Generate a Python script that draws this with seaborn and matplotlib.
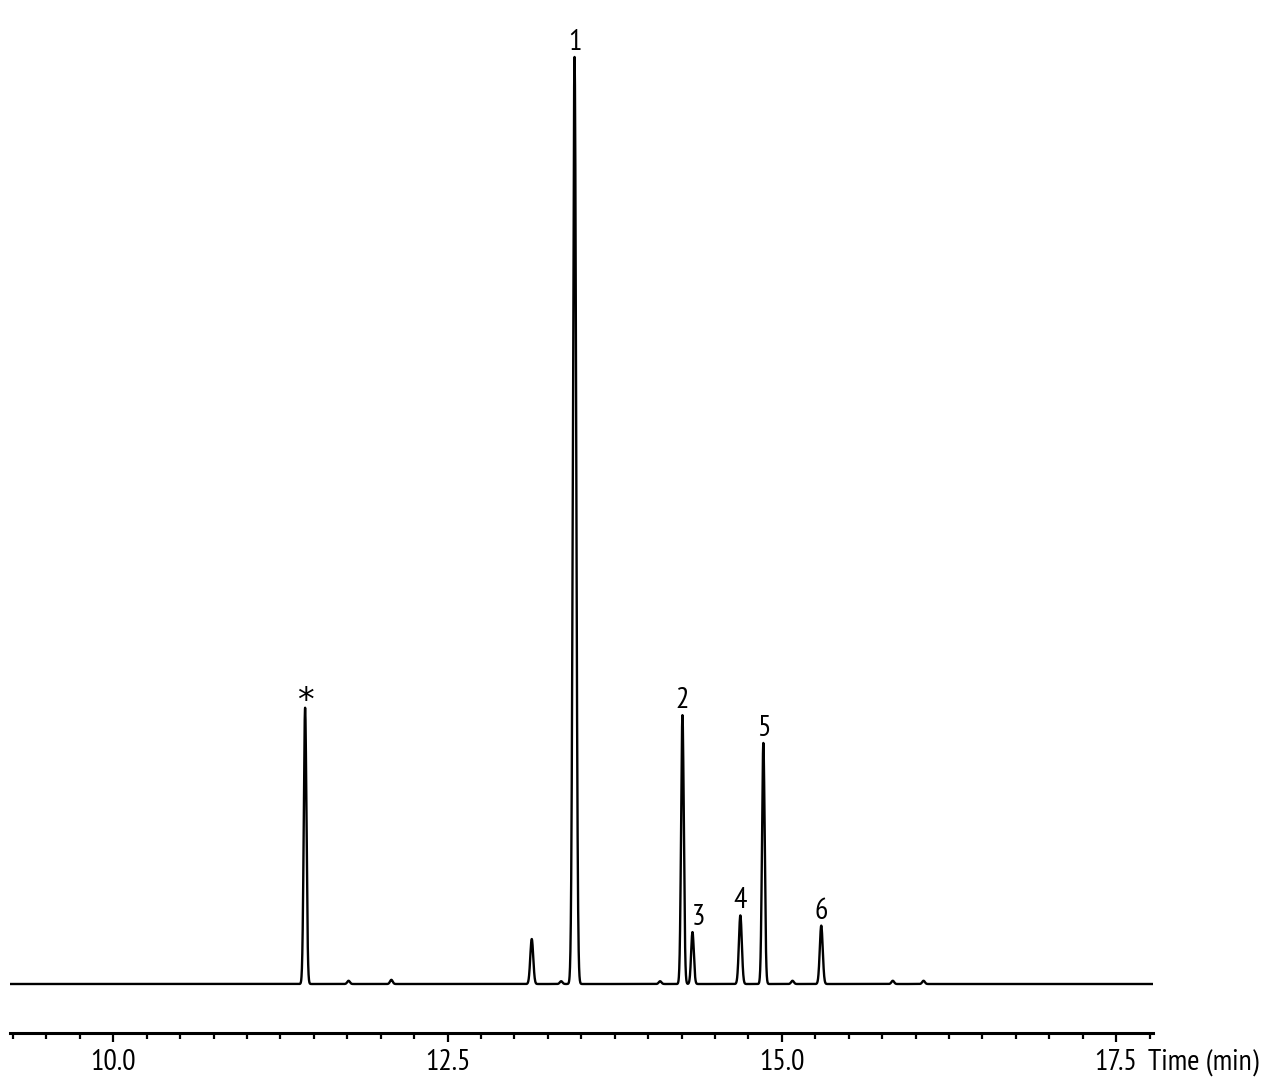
import numpy as np
import pandas as pd
import matplotlib
matplotlib.use('Agg')
import matplotlib.pyplot as plt
from matplotlib.ticker import MultipleLocator, FixedLocator
import seaborn as sns

# peak table (time in min, height relative to peak 1)
peak_times = [11.435, 13.13, 13.45, 14.257, 14.332, 14.69, 14.862, 15.295]
peak_heights = [29.8, 4.85, 100.0, 29.0, 5.6, 7.4, 26.0, 6.3]
peak_widths = [0.010, 0.011, 0.012, 0.010, 0.010, 0.011, 0.010, 0.011]
peak_labels = ['*', '', '1', '2', '3', '4', '5', '6']

# tiny baseline bumps
bump_times = [11.76, 12.08, 13.35, 14.09, 15.08, 15.83, 16.06]
bump_heights = [0.35, 0.45, 0.3, 0.3, 0.35, 0.35, 0.35]

major_ticks = [10.0, 12.5, 15.0, 17.5]
major_labels = ['10.0', '12.5', '15.0', '17.5']

t_start, t_end = 9.228, 17.776

# build the trace from the peak table
t = np.arange(t_start, t_end, 0.001)
signal = np.zeros_like(t)
for rt, h, w in zip(peak_times, peak_heights, peak_widths):
    signal += h * np.exp(-0.5 * ((t - rt) / w) ** 2)
for rt, h in zip(bump_times, bump_heights):
    signal += h * np.exp(-0.5 * ((t - rt) / 0.01) ** 2)
df = pd.DataFrame({'time': t, 'signal': signal})

sns.set_style('white')
plt.rcParams['font.family'] = ['PT Sans Narrow', 'Archivo Narrow', 'Liberation Sans', 'DejaVu Sans']
plt.rcParams['text.color'] = 'black'
plt.rcParams['xtick.color'] = 'black'

fig = plt.figure(figsize=(12.75, 10.89), dpi=100)
ax = fig.add_axes([10 / 1275, 56 / 1089, 1143 / 1275, 1013 / 1089])

sns.lineplot(data=df, x='time', y='signal', color='black', linewidth=1.7,
             estimator=None, ax=ax)

ax.set_xlim(t_start, t_end)
ax.set_ylim(-5.286, 103.99)

# peak labels
for rt, h, lab in zip(peak_times, peak_heights, peak_labels):
    if not lab:
        continue
    if lab == '*':
        ax.annotate(lab, xy=(rt, h), xytext=(0, -2), textcoords='offset points',
                    ha='center', va='baseline', fontsize=24, family='DejaVu Sans')
        continue
    dx = 4.3 if lab == '3' else 0
    ax.annotate(lab, xy=(rt, h), xytext=(dx, 5), textcoords='offset points',
                ha='center', va='baseline', fontsize=21.5)

# axis styling
for side in ['left', 'top', 'right']:
    ax.spines[side].set_visible(False)
ax.spines['bottom'].set_linewidth(2.2)
ax.spines['bottom'].set_color('black')
ax.set_yticks([])
ax.xaxis.set_major_locator(FixedLocator(major_ticks))
ax.set_xticklabels(major_labels)
ax.xaxis.set_minor_locator(MultipleLocator(0.25))
ax.tick_params(axis='x', which='major', direction='out', length=6.5, width=1.6,
               color='black', labelsize=21.5, labelcolor='black', pad=5, bottom=True)
ax.tick_params(axis='x', which='minor', direction='out', length=4.3, width=1.6,
               color='black', bottom=True)
ax.set_xlabel('')
ax.set_ylabel('')
ax.annotate('Time (min)', xy=(1, 0), xycoords='axes fraction',
            xytext=(-3.6, -26.6), textcoords='offset points',
            ha='left', va='baseline', fontsize=21.5)

fig.savefig('out.png', dpi=100)
